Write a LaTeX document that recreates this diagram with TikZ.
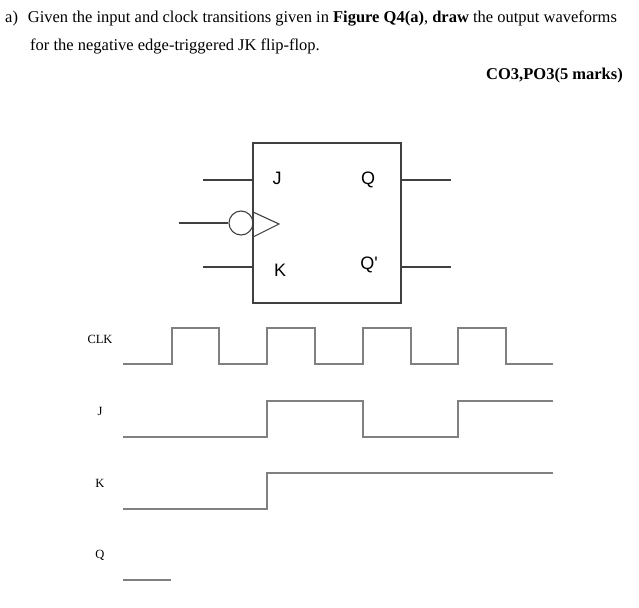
\documentclass[tikz,border=0pt]{standalone}
\usepackage{fontspec}
\setmainfont{Liberation Serif}
\newfontfamily\arialf{Liberation Sans}
\begin{document}
\begin{tikzpicture}[x=1pt,y=-1pt,
  wave/.style={draw=black!50,line width=1.2pt},
  gate/.style={draw=black!75,line width=1.1pt},
  pin/.style={font=\arialf\fontsize{18}{18}\selectfont,inner sep=0},
  sig/.style={font=\fontsize{12.5}{12.5}\selectfont,inner sep=0},
  txt/.style={font=\fontsize{16.5}{16.5}\selectfont,inner sep=0}]
\useasboundingbox (0,0) rectangle (639,607);
\node[txt,anchor=base west] (l1) at (5,23) {a)\hspace{0.6em}Given the input and clock transitions given in \textbf{Figure Q4(a)}, \textbf{draw} the output waveforms};
\node[txt,anchor=base west] (l2) at (30,51) {for the negative edge-triggered JK flip-flop.};
\node[txt,anchor=base east] (l3) at (623,80) {\textbf{CO3,PO3(5 marks)}};
% flip-flop
\node[gate,minimum width=148,minimum height=160,inner sep=0] (ff) at (327,223) {};
\node[pin] (pj) at (277,178) {J};
\node[pin] (pq) at (368,180) {Q};
\node[pin] (pk) at (280,270) {K};
\node[pin] (pqb) at (369,265) {Q'};
\coordinate (jin) at (203,180); \coordinate (jb) at (253,180);
\coordinate (kin) at (203,267); \coordinate (kb) at (253,267);
\coordinate (qo) at (451,180); \coordinate (qb) at (401,180);
\coordinate (qbo) at (451,267); \coordinate (qbb) at (401,267);
\draw[gate] (jin) -- (jb); \draw[gate] (kin) -- (kb);
\draw[gate] (qb) -- (qo); \draw[gate] (qbb) -- (qbo);
\node[gate,circle,minimum size=24,inner sep=0] (bub) at (241,223) {};
\coordinate (cin) at (179,223);
\draw[gate] (cin) -- (bub.west);
\draw[gate] (253,212) -- (279,224) -- (253,237);
% labels
\node[sig] (lclk) at (100,339) {CLK};
\node[sig] (lj) at (100,411) {J};
\node[sig] (lk) at (100,483) {K};
\node[sig] (lq) at (100,555) {Q};
% waveforms
\draw[wave] (123,364) -- (172,364) -- (172,328) -- (219,328) -- (219,364) -- (267,364) -- (267,328) -- (315,328) -- (315,364) -- (363,364) -- (363,328) -- (411,328) -- (411,364) -- (458,364) -- (458,328) -- (506,328) -- (506,364) -- (553,364);
\draw[wave] (123,437) -- (267,437) -- (267,401) -- (363,401) -- (363,437) -- (458,437) -- (458,401) -- (553,401);
\draw[wave] (123,509) -- (267,509) -- (267,473) -- (553,473);
\draw[wave] (123,580) -- (171,580);
\end{tikzpicture}
\end{document}
